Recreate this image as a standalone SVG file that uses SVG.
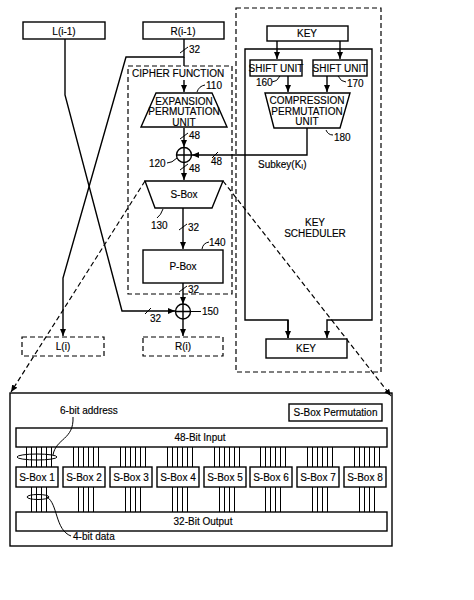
<svg xmlns="http://www.w3.org/2000/svg" width="474" height="600" viewBox="0 0 474 600">
<style>
.s{fill:none;stroke:#000;stroke-width:1.4}
.t{fill:none;stroke:#000;stroke-width:1}
.d{fill:none;stroke:#000;stroke-width:1.2;stroke-dasharray:5 3}
.b{fill:#fff;stroke:#000;stroke-width:1.4}
text{font-family:"Liberation Sans",Arial,sans-serif;font-size:10px;fill:#000;stroke:#000;stroke-width:0.15}
.c{text-anchor:middle}
.w{fill:none;stroke:#000;stroke-width:1}
</style>
<defs>
<marker id="a" markerWidth="7" markerHeight="6" refX="7" refY="3" orient="auto" markerUnits="userSpaceOnUse"><path d="M0,0L7,3L0,6z" fill="#000"/></marker>
<g id="wires"><path class="w" d="M-11.5,447V467M-6.5,447V467M-1.5,447V467M3.5,447V467M8.5,447V467M13.5,447V467M-6.5,487V512M-1.5,487V512M3.5,487V512M8.5,487V512"/></g>
</defs>
<rect width="474" height="600" fill="#fff"/>

<!-- containers -->
<g id="cipher-function">
<rect class="d" x="128" y="66" width="104" height="228"/>
<text x="132" y="77" font-size="9.5">CIPHER FUNCTION</text>
</g>
<g id="key-scheduler">
<rect class="d" x="236" y="8" width="145" height="364"/>
<text class="c" x="315" y="226">KEY</text>
<text class="c" x="315" y="237">SCHEDULER</text>
</g>

<!-- connectors -->
<g id="connectors">
<path class="s" d="M65,39V95L122,311H175" marker-end="url(#a)"/>
<path class="s" d="M184,39V57H126L63,278V336" marker-end="url(#a)"/>
<path class="s" d="M184,57V66"/>
<path class="s" d="M184,80V92" marker-end="url(#a)"/>
<path class="s" d="M184,128V147" marker-end="url(#a)"/>
<path class="s" d="M184,163V180" marker-end="url(#a)"/>
<path class="s" d="M307,128V155H192" marker-end="url(#a)"/>
<path class="s" d="M183,208V249" marker-end="url(#a)"/>
<path class="s" d="M183,283V304" marker-end="url(#a)"/>
<path class="s" d="M183,319V336" marker-end="url(#a)"/>
<path class="s" d="M277,41V59" marker-end="url(#a)"/>
<path class="s" d="M340,41V59" marker-end="url(#a)"/>
<path class="s" d="M288,76V92" marker-end="url(#a)"/>
<path class="s" d="M327,76V92" marker-end="url(#a)"/>
<path class="s" d="M288,338V320H245V49H372V320H327V338" marker-end="url(#a)"/>
<path class="s" d="M288,320V338" marker-end="url(#a)"/>
<path class="d" d="M145,181L11,392" marker-end="url(#a)"/>
<path class="d" d="M223,181L391,396" marker-end="url(#a)"/>
<!-- bus width slashes -->
<path class="t" d="M180,53L188,47M180,139L188,133M180,170L188,164M212,158L218,152M179,230L187,224M179,292L187,286M145,314L151,308"/>
<text x="189" y="53">32</text>
<text x="189" y="139">48</text>
<text x="189" y="172">48</text>
<text x="211" y="165">48</text>
<text x="188" y="231">32</text>
<text x="188" y="293">32</text>
<text x="150" y="322">32</text>
<text x="258" y="168">Subkey(K<tspan font-size="7" dy="1">I</tspan><tspan dy="-1">)</tspan></text>
</g>

<!-- nodes -->
<g id="L-in"><rect class="b" x="23" y="22" width="82" height="17"/><text class="c" x="64" y="34.5">L(i-1)</text></g>
<g id="R-in"><rect class="b" x="143" y="22" width="81" height="17"/><text class="c" x="183" y="34.5">R(i-1)</text></g>
<g id="expansion">
<path class="b" d="M156,93H212L227,127H141Z"/>
<text class="c" x="184" y="104.5">EXPANSION</text>
<text class="c" x="184" y="115">PERMUTATION</text>
<text class="c" x="184" y="125.5">UNIT</text>
<path class="t" d="M197,92Q199,86 205,85"/><text x="206" y="89">110</text>
</g>
<g id="xor120">
<circle class="b" cx="184" cy="155" r="7.5"/><path class="s" d="M176.5,155H191.5M184,147.5V162.5"/>
<path class="t" d="M177,158Q172,163 167,163"/><text x="149" y="167">120</text>
</g>
<g id="sbox">
<path class="b" d="M145,181H223L212,208H155Z"/>
<text class="c" x="184" y="198" font-size="10.5">S-Box</text>
<path class="t" d="M163,209Q161,215 157,218"/><text x="151" y="229">130</text>
</g>
<g id="pbox">
<rect class="b" x="143" y="250" width="80" height="33"/>
<text class="c" x="183" y="270" font-size="10.5">P-Box</text>
<path class="t" d="M202,249Q203,243 209,242"/><text x="209" y="246">140</text>
</g>
<g id="xor150">
<circle class="b" cx="183" cy="311.5" r="7.5"/><path class="s" d="M175.5,311.5H190.5M183,304V319"/>
<path class="t" d="M191,311.5H201"/><text x="202" y="315">150</text>
</g>
<g id="L-out"><rect class="d" x="22" y="337" width="82" height="19"/><text class="c" x="63" y="350">L(i)</text></g>
<g id="R-out"><rect class="d" x="143" y="337" width="80" height="19"/><text class="c" x="183" y="350">R(i)</text></g>
<g id="key-top"><rect class="b" x="267" y="26" width="81" height="15"/><text class="c" x="307" y="37">KEY</text></g>
<g id="shift160"><rect class="b" x="250" y="60" width="52" height="16"/><text class="c" x="276" y="71.5" font-size="9.5">SHIFT UNIT</text>
<path class="t" d="M280,76Q277,82 272,82"/><text x="256" y="86">160</text></g>
<g id="shift170"><rect class="b" x="313" y="60" width="54" height="16"/><text class="c" x="340" y="71.5" font-size="9.5">SHIFT UNIT</text>
<path class="t" d="M338,76Q341,82 346,82"/><text x="347" y="87">170</text></g>
<g id="compression">
<path class="b" d="M265,93H350L340,128H274Z"/>
<text class="c" x="307" y="104">COMPRESSION</text>
<text class="c" x="307" y="114.5">PERMUTATION</text>
<text class="c" x="307" y="125">UNIT</text>
<path class="t" d="M326,130Q328,135 333,135"/><text x="334" y="141">180</text>
</g>
<g id="key-bottom"><rect class="b" x="266" y="339" width="81" height="19"/><text class="c" x="306" y="352">KEY</text></g>

<!-- S-Box permutation panel -->
<g id="sbox-permutation">
<rect class="s" x="10" y="393" width="382" height="153"/>
<rect class="s" x="289" y="404" width="93" height="17"/>
<text class="c" x="335.5" y="416">S-Box Permutation</text>
<rect class="s" x="16" y="428" width="371" height="19"/>
<text class="c" x="200" y="441">48-Bit Input</text>
<rect class="s" x="16" y="512" width="371" height="19"/>
<text class="c" x="203" y="525">32-Bit Output</text>
<text x="60" y="414">6-bit address</text>
<text x="73" y="540">4-bit data</text>
<ellipse class="t" cx="37" cy="457" rx="20" ry="3"/>
<ellipse class="t" cx="38" cy="497" rx="11" ry="2.5"/>
<path class="t" d="M73,417C74,440 56,438 53,455"/>
<path class="t" d="M47,497C58,504 55,530 71,536"/>
</g>
<g id="sbox1"><use href="#wires" x="38"/><rect class="b" x="16" y="467" width="42" height="20"/><text class="c" x="37" y="481">S-Box 1</text></g>
<g id="sbox2"><use href="#wires" x="85"/><rect class="b" x="63" y="467" width="42" height="20"/><text class="c" x="84" y="481">S-Box 2</text></g>
<g id="sbox3"><use href="#wires" x="132"/><rect class="b" x="110" y="467" width="42" height="20"/><text class="c" x="131" y="481">S-Box 3</text></g>
<g id="sbox4"><use href="#wires" x="179"/><rect class="b" x="157" y="467" width="42" height="20"/><text class="c" x="178" y="481">S-Box 4</text></g>
<g id="sbox5"><use href="#wires" x="226"/><rect class="b" x="204" y="467" width="42" height="20"/><text class="c" x="225" y="481">S-Box 5</text></g>
<g id="sbox6"><use href="#wires" x="272"/><rect class="b" x="250" y="467" width="42" height="20"/><text class="c" x="271" y="481">S-Box 6</text></g>
<g id="sbox7"><use href="#wires" x="319"/><rect class="b" x="297" y="467" width="42" height="20"/><text class="c" x="318" y="481">S-Box 7</text></g>
<g id="sbox8"><use href="#wires" x="366"/><rect class="b" x="344" y="467" width="42" height="20"/><text class="c" x="365" y="481">S-Box 8</text></g>
</svg>
